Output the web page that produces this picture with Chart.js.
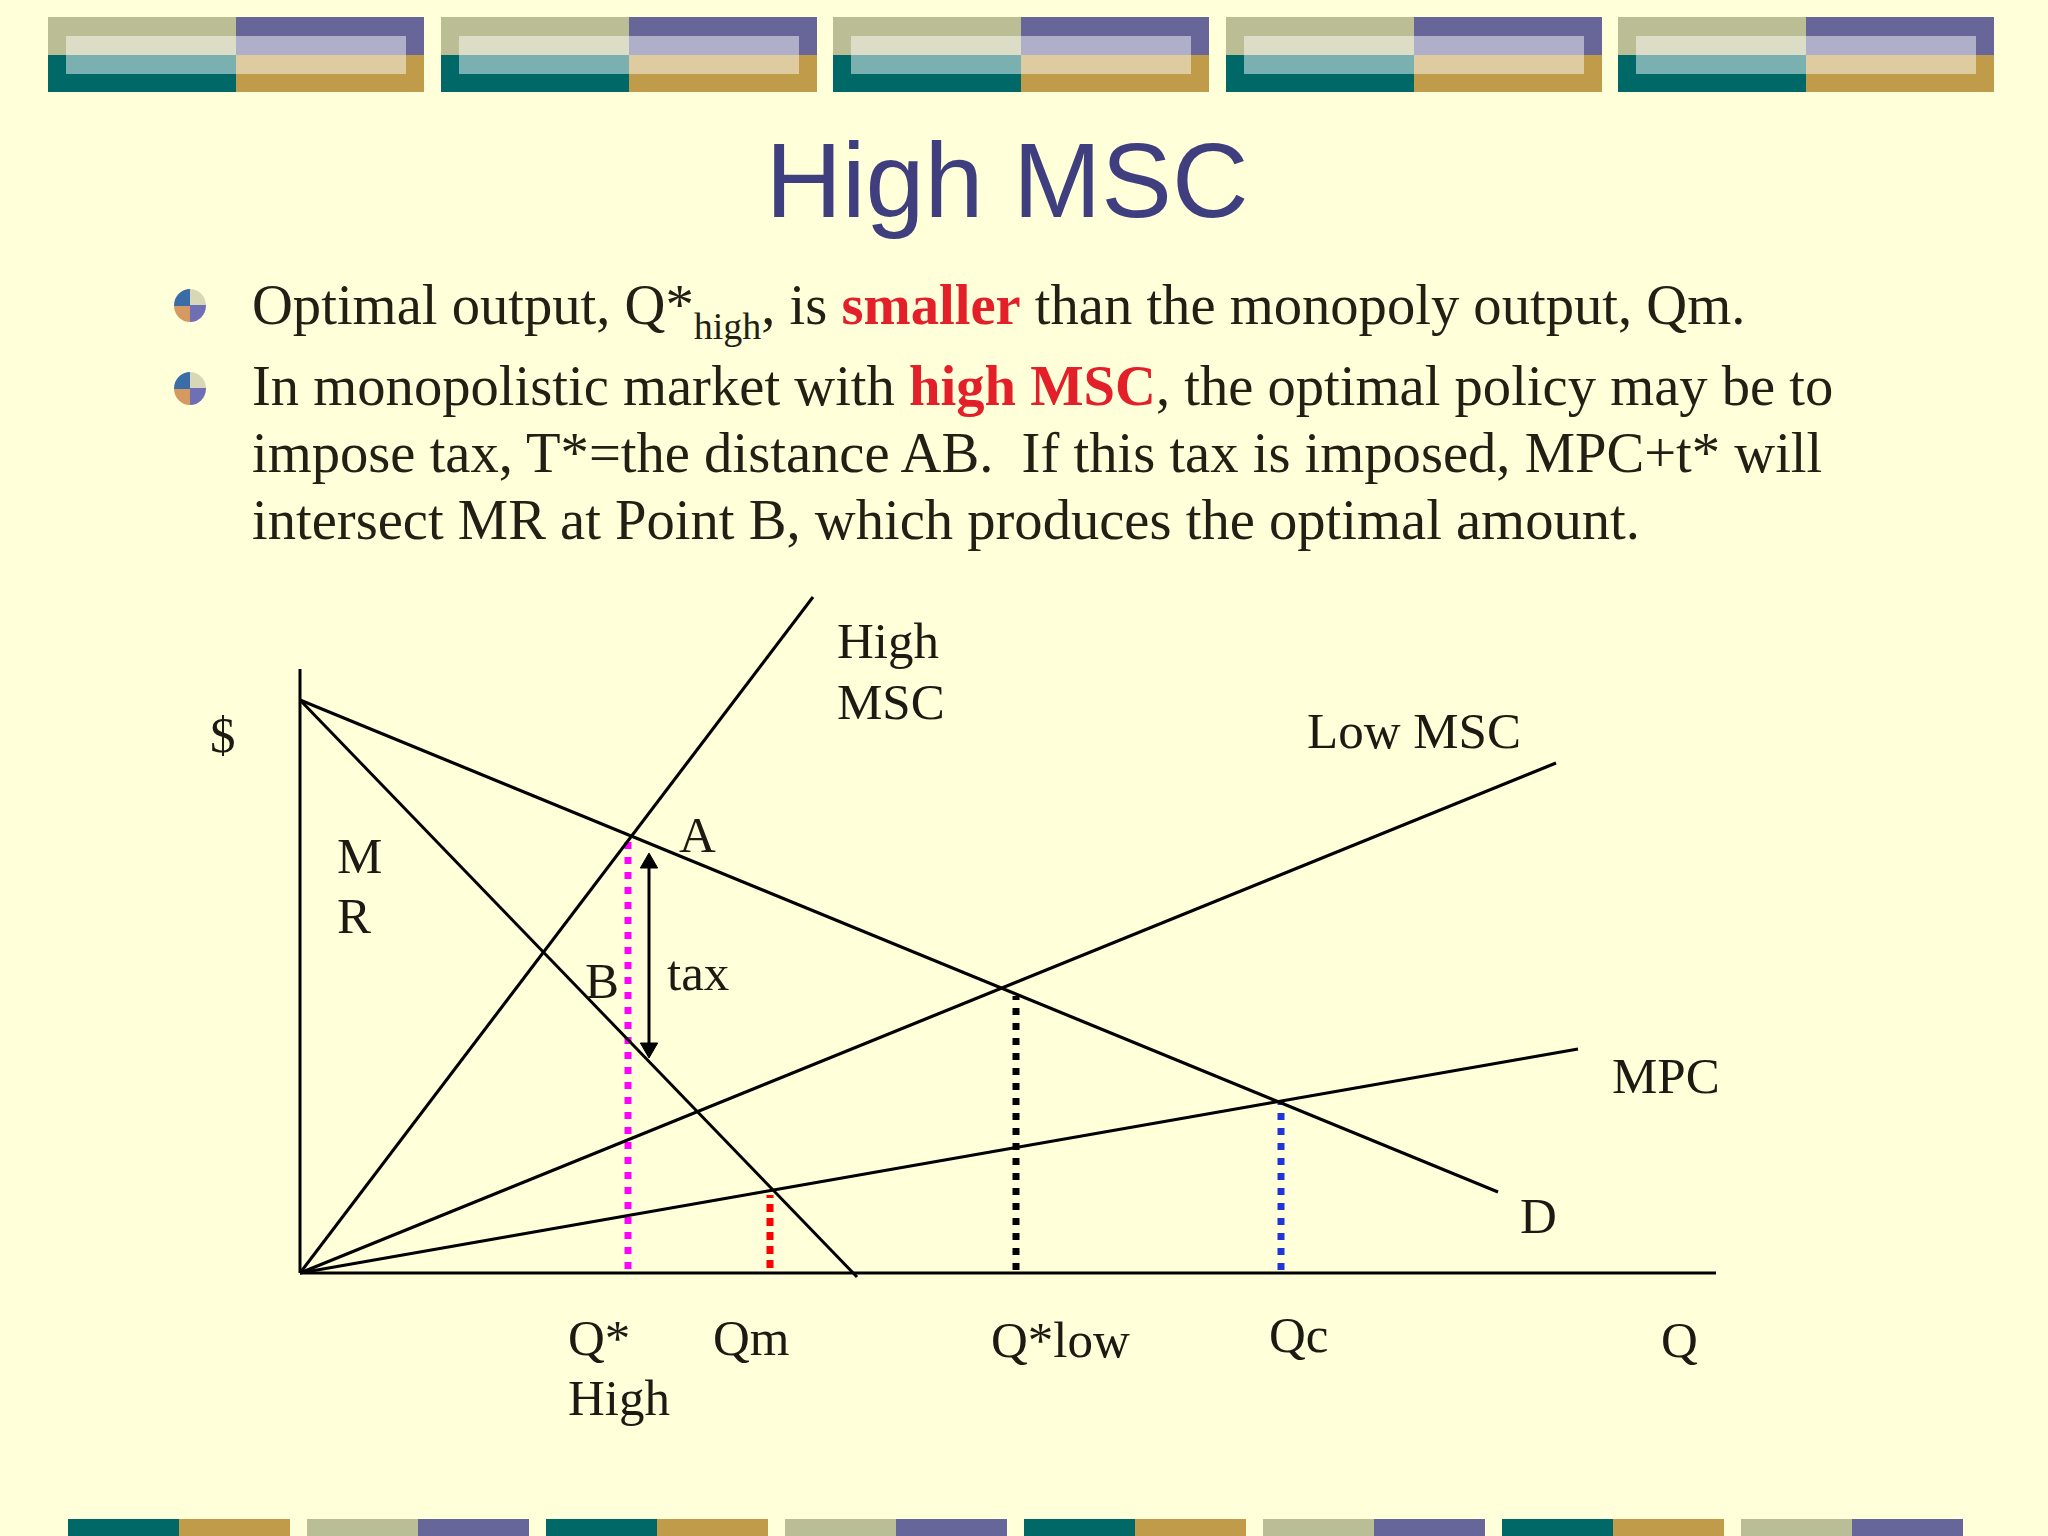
<!DOCTYPE html>
<html>
<head>
<meta charset="utf-8">
<script src="https://cdn.jsdelivr.net/npm/chart.js@4.4.1/dist/chart.umd.min.js"></script>
<style>
  html, body { margin: 0; padding: 0; }
  body { width: 2048px; height: 1536px; background: #ffffd9; position: relative; overflow: hidden; }
  .blk { position: absolute; top: 17px; width: 376px; height: 75px; }
  .blk i { position: absolute; width: 50%; height: 50%; }
  .blk .tl { left: 0; top: 0; background: #bbbe94; }
  .blk .tr { right: 0; top: 0; background: #686699; }
  .blk .bl { left: 0; bottom: 0; background: #006866; }
  .blk .br { right: 0; bottom: 0; background: #c09c4a; }
  .blk .inner { position: absolute; left: 18px; right: 18px; top: 19px; bottom: 18px; background: rgba(255,255,255,0.48); }
  .bot { position: absolute; top: 1519px; width: 111px; height: 17px; }
  h1 { position: absolute; left: 0; width: 2014px; top: 120px; margin: 0; text-align: center;
       font: 106px "Liberation Sans", Arial, sans-serif; color: #3f3f7f; line-height: 120px; }
  .para { position: absolute; left: 252px; font: 56.6px "Liberation Serif", "Times New Roman", serif;
          color: #231f14; line-height: 67px; white-space: nowrap; }
  .para sub { font-size: 38px; vertical-align: -15px; line-height: 0; }
  .hl { color: #e3202a; font-weight: bold; }
  .dot { position: absolute; left: 174px; width: 32px; height: 33px; border-radius: 50%;
         background: conic-gradient(#d8d8b8 0 90deg, #6f6fb5 90deg 180deg, #d49a62 180deg 270deg, #3a6da8 270deg 360deg); }
  #chart { position: absolute; left: 0; top: 0; }
</style>
</head>
<body>
<div id="banner"></div>
<h1>High MSC</h1>
<div class="dot" style="top:289px"></div>
<div class="dot" style="top:372px"></div>
<div class="para" style="top:272px">Optimal output, Q*<sub>high</sub>, is <span class="hl">smaller</span> than the monopoly output, Qm.</div>
<div class="para" style="top:353px">In monopolistic market with <span class="hl">high MSC</span>, the optimal policy may be to<br>impose tax, T*=the distance AB.&nbsp; If this tax is imposed, MPC+t* will<br>intersect MR at Point B, which produces the optimal amount.</div>
<canvas id="chart" width="2048" height="1536"></canvas>
<script>
// diagram values (quantity, price)
const priceAxis = [[0, 0], [0, 60.4]];
const quantityAxis = [[0, 0], [141.6, 0]];
const demand = [[0, 57.3], [119.8, 8.1]];
const marginalRevenue = [[0, 57.3], [55.7, -0.4]];
const highMSC = [[0, 0], [51.3, 67.6]];
const lowMSC = [[0, 0], [125.6, 51.0]];
const mpc = [[0, 0], [127.8, 22.4]];

// dropped lines at the key quantities
const qStarHigh = [[32.8, 0.4], [32.8, 43.8]];
const qMonopoly = [[47.0, 0.5], [47.0, 7.8]];
const qStarLow = [[71.6, 0.3], [71.6, 27.7]];
const qCompetitive = [[98.1, 0.3], [98.1, 17.1]];

// tax arrow between A and B
const taxArrow = [[34.9, 41.0], [34.9, 22.5]];

// text labels
const labelText = ["$", "M", "R", "High", "MSC", "Low MSC", "A", "B", "tax", "MPC", "D",
  "Q*", "High", "Qm", "Q*low", "Qc", "Q"];
const labelAt = [[-9.0, 52.1], [3.7, 40.0], [3.7, 34.0], [53.7, 61.5], [53.7, 55.4], [100.7, 52.5],
  [37.9, 42.1], [28.5, 27.5], [36.7, 28.3], [131.2, 18.0], [122.0, 4.0],
  [26.8, -8.2], [26.8, -14.2], [41.3, -8.2], [69.1, -8.4], [96.9, -7.9], [136.1, -8.4]];

// slide decoration
const topBlocks = [48, 441, 833, 1226, 1618];
const bottomBlocks = [68, 307, 546, 785, 1024, 1263, 1502, 1741];

const banner = document.getElementById("banner");
topBlocks.forEach((x) => {
  const d = document.createElement("div");
  d.className = "blk";
  d.style.left = x + "px";
  d.innerHTML = '<i class="tl"></i><i class="tr"></i><i class="bl"></i><i class="br"></i><div class="inner"></div>';
  banner.appendChild(d);
});
bottomBlocks.forEach((x, k) => {
  const pair = k % 2 === 0 ? ["#006866", "#c09c4a"] : ["#b9be96", "#67669a"];
  pair.forEach((c, j) => {
    const d = document.createElement("div");
    d.className = "bot";
    d.style.left = (x + j * 111) + "px";
    d.style.background = c;
    banner.appendChild(d);
  });
});

const pts = (arr) => arr.map(([x, y]) => ({ x, y }));

function solid(arr) {
  return { data: pts(arr), showLine: true, borderColor: "#000", borderWidth: 3, pointRadius: 0, clip: false };
}
function dotted(arr, color, dash) {
  return { data: pts(arr), showLine: true, borderColor: color, borderWidth: 7, borderDash: dash,
    borderCapStyle: "butt", pointRadius: 0, clip: false };
}

const labelPlugin = {
  id: "labels",
  afterDatasetsDraw(chart) {
    const { ctx, scales } = chart;
    ctx.save();
    ctx.font = '51px "Liberation Serif", "Times New Roman", serif';
    ctx.fillStyle = "#1c1a12";
    ctx.textBaseline = "alphabetic";
    labelText.forEach((t, i) => {
      ctx.fillText(t, scales.x.getPixelForValue(labelAt[i][0]), scales.y.getPixelForValue(labelAt[i][1]));
    });
    ctx.restore();
  }
};

new Chart(document.getElementById("chart"), {
  type: "scatter",
  data: {
    datasets: [
      solid(priceAxis),
      solid(quantityAxis),
      solid(demand),
      solid(marginalRevenue),
      solid(highMSC),
      solid(lowMSC),
      solid(mpc),
      dotted(qStarHigh, "#ff00ff", [7, 8]),
      dotted(qMonopoly, "#ff0000", [8, 6]),
      dotted(qStarLow, "#000000", [7, 8]),
      dotted(qCompetitive, "#1f35d9", [7, 8]),
      {
        data: pts(taxArrow), showLine: true, borderColor: "#000", borderWidth: 3,
        pointStyle: "triangle", pointRadius: 10, pointRotation: [0, 180],
        pointBackgroundColor: "#000", pointBorderColor: "#000", pointBorderWidth: 1, clip: false
      }
    ]
  },
  options: {
    responsive: false,
    animation: false,
    devicePixelRatio: 1,
    events: [],
    layout: { padding: { left: 300, right: 328, top: 593, bottom: 263 } },
    plugins: { legend: { display: false }, tooltip: { enabled: false } },
    scales: {
      x: { type: "linear", min: 0, max: 142, display: false },
      y: { type: "linear", min: 0, max: 68, display: false }
    }
  },
  plugins: [labelPlugin]
});
</script>
</body>
</html>
